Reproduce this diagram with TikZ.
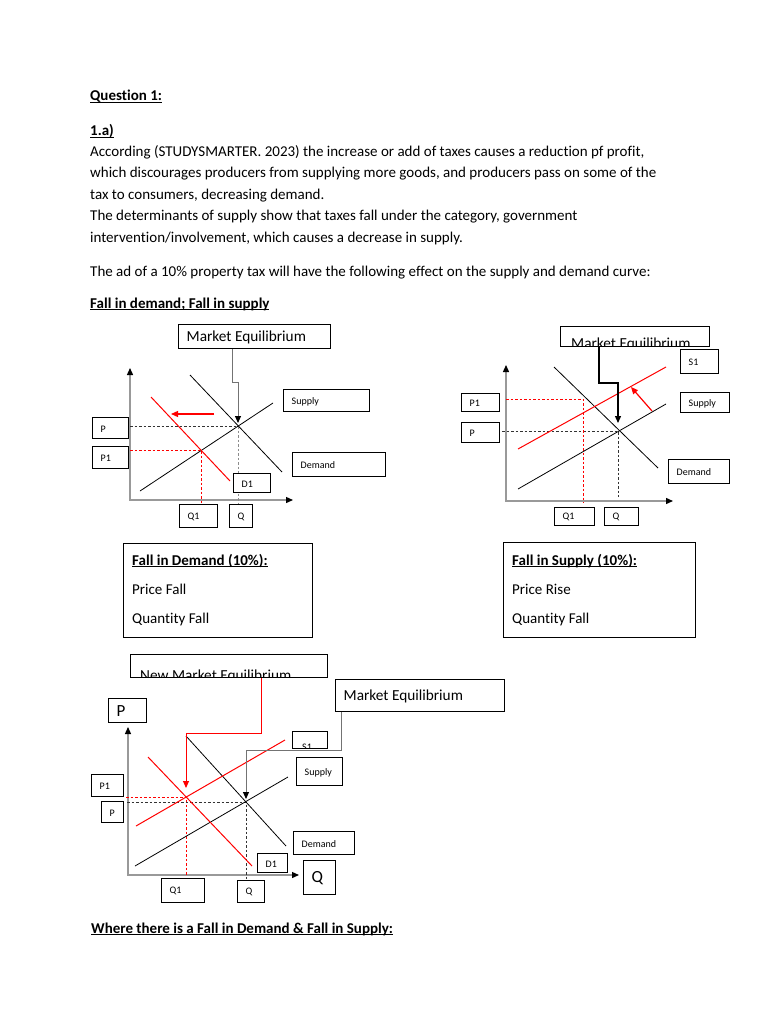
\documentclass[tikz,border=0pt]{standalone}
\usepackage{fontspec}
\setmainfont{Carlito}[Ligatures=NoCommon]
\usetikzlibrary{arrows.meta}
\pgfdeclarelayer{bg}
\pgfdeclarelayer{paper}
\pgfsetlayers{paper,bg,main}
\newcommand\fsBody{\fontsize{15}{18}\selectfont}
\newcommand\fsSmall{\fontsize{10}{12}\selectfont}
\newcommand\fsMed{\fontsize{15.3}{18}\selectfont}
\newcommand\fsBig{\fontsize{17}{20}\selectfont}
\newcommand\ulx[1]{\setbox0\hbox{#1}\rlap{\rule[-2.2pt]{\wd0}{0.9pt}}\box0}
\newcommand\lbox[7]{%
  \pgfmathsetmacro\lbw{#4-#2}\pgfmathsetmacro\lbh{#5-#3}%
  \node[boxs, anchor=north west, minimum width=\lbw pt, minimum height=\lbh pt] (#1) at (#2,#3) {};%
  \node[anchor=west, inner sep=0pt, font=#6] (#1t) at ([xshift=8.5pt,yshift=-1pt]#1.west) {#7};}
\newcommand\clbox[9]{%
  \pgfmathsetmacro\lbw{#4-#2}\pgfmathsetmacro\lbh{#5-#3}%
  \node[boxs, anchor=north west, minimum width=\lbw pt, minimum height=\lbh pt] (#1) at (#2,#3) {};%
  \begin{scope}\clip (#2,#3) rectangle (#4,#5);
  \node[anchor=base west, inner sep=0pt, font=#6] (#1t) at (#9,#8) {#7};
  \end{scope}}
\begin{document}
\begin{tikzpicture}[x=1pt,y=-1pt,
  txt/.style={anchor=base west, inner sep=0pt, font=\fsBody},
  boxs/.style={draw=black, fill=white, line width=0.8pt, inner sep=0pt},
  curve/.style={draw=black, line width=0.8pt},
  rcurve/.style={draw=red, line width=1pt},
  dsh/.style={draw=black!80, line width=0.7pt, dash pattern=on 2.5pt off 2pt},
  rdsh/.style={draw=red, line width=0.7pt, dash pattern=on 2.5pt off 2pt},
  axis/.style={draw=black!40, line width=1.3pt, {Triangle[length=7pt,width=6pt,color=black]}-{Triangle[length=7pt,width=6pt,color=black]}},
  conn/.style={draw=black!55, line width=1pt, -{Triangle[length=7pt,width=6pt,color=black]}},
  rconn/.style={draw=red, line width=1pt, -{Triangle[length=7pt,width=6pt]}},
  rarr/.style={draw=red, line width=1.2pt, -{Triangle[length=7pt,width=6pt]}}]
\begin{pgfonlayer}{paper}
\fill[white] (0,0) rectangle (768,1024);
\end{pgfonlayer}
\useasboundingbox (0,0) rectangle (768,1024);

% ---------- text ----------
\node[txt] (t1) at (90,101) {\textbf{\ulx{Question 1:}}};
\node[txt] (t2) at (90,136) {\textbf{\ulx{1.a)}}};
\node[txt] (t3) at (90,156.5) {According (STUDYSMARTER. 2023) the increase or add of taxes causes a reduction pf profit,};
\node[txt] (t4) at (90,178) {which discourages producers from supplying more goods, and producers pass on some of the};
\node[txt] (t5) at (90,199.5) {tax to consumers, decreasing demand.};
\node[txt] (t6) at (90,221) {The determinants of supply show that taxes fall under the category, government};
\node[txt] (t7) at (90,242.5) {intervention/involvement, which causes a decrease in supply.};
\node[txt] (t8) at (90,276) {The ad of a 10\% property tax will have the following effect on the supply and demand curve:};
\node[txt] (t9) at (90,308) {\textbf{\ulx{Fall in demand; Fall in supply}}};
\node[txt] (t10) at (91,933) {\textbf{\ulx{Where there is a Fall in Demand \& Fall in Supply:}}};

% ---------- summary boxes ----------
\node[boxs, anchor=north west, minimum width=189pt, minimum height=94pt] (sum1) at (123,543) {};
\node[txt] (sum1a) at (132,565) {\textbf{\ulx{Fall in Demand (10\%):}}};
\node[txt] (sum1b) at (132,594) {Price Fall};
\node[txt] (sum1c) at (132,623) {Quantity Fall};
\node[boxs, anchor=north west, minimum width=192pt, minimum height=95pt] (sum2) at (503,542) {};
\node[txt] (sum2a) at (512,565) {\textbf{\ulx{Fall in Supply (10\%):}}};
\node[txt] (sum2b) at (512,594) {Price Rise};
\node[txt] (sum2c) at (512,623) {Quantity Fall};

% ================= Diagram 1 =================
\coordinate (o1) at (130,500); \coordinate (y1) at (130,368); \coordinate (x1) at (293,500);
\coordinate (d1a) at (190,375); \coordinate (d1b) at (282,472);
\coordinate (s1a) at (140,491); \coordinate (s1b) at (273,403);
\coordinate (r1a) at (151,397); \coordinate (r1b) at (230,481);
\coordinate (e1) at (238,426); \coordinate (n1) at (201,450);
\coordinate (a1s) at (214,414); \coordinate (a1e) at (171,414);
\coordinate (k1) at (232,382);
\lbox{me1}{178}{324}{330}{348}{\fsMed}{Market Equilibrium}
\lbox{sup1}{283}{389}{369}{411}{\fsSmall}{Supply}
\lbox{dem1}{292}{452}{385}{476}{\fsSmall}{Demand}
\lbox{dd1}{233}{473}{270}{492}{\fsSmall}{D1}
\lbox{p1b}{92}{417}{128}{438}{\fsSmall}{P}
\lbox{pp1}{92}{446}{128}{468}{\fsSmall}{P1}
\lbox{q1b}{179}{504}{217}{527}{\fsSmall}{Q1}
\lbox{qb1}{229}{504}{252}{527}{\fsSmall}{Q}
\begin{pgfonlayer}{bg}
\draw[axis] (y1) -- (o1) -- (x1);
\draw[dsh] (o1 |- e1) -- (e1);
\draw[dsh, draw=black!45] (e1) -- (e1 |- qb1.north);
\draw[rdsh] (o1 |- n1) -- (n1) -- (n1 |- q1b.north);
\draw[curve] (d1a) -- (d1b);
\draw[curve] (s1a) -- (s1b);
\draw[rcurve] (r1a) -- (r1b);
\draw[rarr] (a1s) -- (a1e);
\end{pgfonlayer}
\draw[conn] (me1.south -| k1) -- (k1) -| ([yshift=3pt]e1);

% ================= Diagram 2 =================
\coordinate (o2) at (506,501); \coordinate (y2) at (506,365); \coordinate (x2) at (673,501);
\coordinate (d2a) at (554,367); \coordinate (d2b) at (658,468);
\coordinate (s2a) at (518,489); \coordinate (s2b) at (666,404);
\coordinate (r2a) at (518,449); \coordinate (r2b) at (666,367);
\coordinate (e2) at (618,431); \coordinate (n2) at (583,399);
\coordinate (a2s) at (652,411); \coordinate (a2e) at (631,387);
\coordinate (k2) at (599,383);
\clbox{me2}{560}{326}{709}{346}{\fsMed}{Market Equilibrium}{348.5}{571}
\lbox{s1b2}{680}{349}{718}{373}{\fsSmall}{S1}
\lbox{sup2}{680}{392}{729}{412}{\fsSmall}{Supply}
\lbox{dem2}{668}{459}{729}{483}{\fsSmall}{Demand}
\lbox{pp2}{461}{393}{499}{411}{\fsSmall}{P1}
\lbox{p2b}{461}{422}{499}{442}{\fsSmall}{P}
\lbox{q1b2}{554}{507}{594}{525}{\fsSmall}{Q1}
\lbox{qb2}{604}{507}{638}{525}{\fsSmall}{Q}
\begin{pgfonlayer}{bg}
\draw[axis] (y2) -- (o2) -- (x2);
\draw[dsh] ([xshift=-4pt]o2 |- e2) -- (e2) -- ([yshift=4pt]e2 |- o2);
\draw[rdsh] (o2 |- n2) -- (n2) -- ([yshift=-2pt]n2 |- o2);
\draw[curve] (d2a) -- (d2b);
\draw[curve] (s2a) -- (s2b);
\draw[rcurve] (r2a) -- (r2b);
\draw[rarr] (a2s) -- (a2e);
\end{pgfonlayer}
\draw[conn, draw=black, line width=1.3pt] (me2.south -| k2) -- (k2) -| ([yshift=8pt]e2);

% ================= Diagram 3 =================
\coordinate (o3) at (128,875); \coordinate (y3) at (128,727); \coordinate (x3) at (299,875);
\coordinate (d3a) at (186,736); \coordinate (d3b) at (286,846);
\coordinate (s3a) at (135,866); \coordinate (s3b) at (288,777);
\coordinate (r3a) at (136,826); \coordinate (r3b) at (285,740);
\coordinate (t3a) at (148,757); \coordinate (t3b) at (252,866);
\coordinate (e3) at (246,802); \coordinate (n3) at (186,797);
\coordinate (k3) at (261,733); \coordinate (k4) at (341,750);
\clbox{nme}{130}{654}{327}{677}{\fsMed}{New Market Equilibrium}{680}{140}
\lbox{me3}{335}{679}{504}{711}{\fsMed}{Market Equilibrium}
\lbox{pbig}{108}{698}{146}{722}{\fsBig}{P}
\lbox{qbig}{303}{860}{335}{894}{\fsBig}{Q}
\clbox{s1b3}{292}{731}{327}{748}{\fsSmall}{S1}{750.5}{302}
\lbox{sup3}{296}{757}{342}{785}{\fsSmall}{Supply}
\lbox{dem3}{293}{831}{354}{854}{\fsSmall}{Demand}
\lbox{dd3}{257}{853}{287}{872}{\fsSmall}{D1}
\lbox{pp3}{91}{774}{123}{796}{\fsSmall}{P1}
\lbox{p3b}{101}{801}{123}{822}{\fsSmall}{P}
\lbox{q1b3}{161}{878}{204}{902}{\fsSmall}{Q1}
\lbox{qb3}{237}{880}{264}{902}{\fsSmall}{Q}
\begin{pgfonlayer}{bg}
\draw[axis] (y3) -- (o3) -- (x3);
\draw[rdsh] ([xshift=-2pt]o3 |- n3) -- (n3) -- (n3 |- o3);
\draw[dsh] ([xshift=-1pt]o3 |- e3) -- (e3) -- (e3 |- qb3.north);
\draw[curve] (d3a) -- (d3b);
\draw[curve] (s3a) -- (s3b);
\draw[rcurve] (r3a) -- (r3b);
\draw[rcurve] (t3a) -- (t3b);
\end{pgfonlayer}
\draw[rconn] (nme.south -| k3) -- (k3) -| ([yshift=9pt]n3);
\draw[conn] (me3.south -| k4) -- (k4) -| ([yshift=3pt]e3);
\end{tikzpicture}
\end{document}
